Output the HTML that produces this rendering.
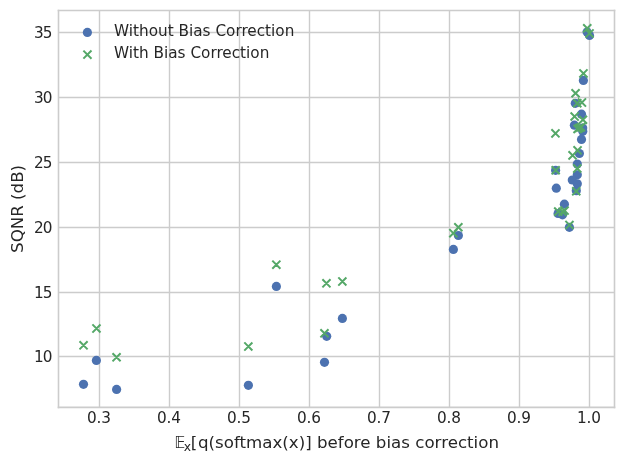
<!DOCTYPE html>
<html><head><meta charset="utf-8"><title>SQNR vs softmax</title>
<style>html,body{margin:0;padding:0;background:#fff}svg{display:block}text{font-family:"DejaVu Sans","Liberation Sans",sans-serif;fill:#262626}</style></head><body>
<svg width="623" height="464" viewBox="0 0 623 464">
<rect width="623" height="464" fill="#fff"/>
<g stroke="#cccccc" stroke-width="1.39" fill="none">
<line x1="99.50" y1="10.50" x2="99.50" y2="407.40"/>
<line x1="169.50" y1="10.50" x2="169.50" y2="407.40"/>
<line x1="239.50" y1="10.50" x2="239.50" y2="407.40"/>
<line x1="309.50" y1="10.50" x2="309.50" y2="407.40"/>
<line x1="379.50" y1="10.50" x2="379.50" y2="407.40"/>
<line x1="449.50" y1="10.50" x2="449.50" y2="407.40"/>
<line x1="519.50" y1="10.50" x2="519.50" y2="407.40"/>
<line x1="589.50" y1="10.50" x2="589.50" y2="407.40"/>
<line x1="58.50" y1="32.50" x2="614.50" y2="32.50"/>
<line x1="58.50" y1="97.50" x2="614.50" y2="97.50"/>
<line x1="58.50" y1="162.50" x2="614.50" y2="162.50"/>
<line x1="58.50" y1="227.50" x2="614.50" y2="227.50"/>
<line x1="58.50" y1="292.50" x2="614.50" y2="292.50"/>
<line x1="58.50" y1="356.50" x2="614.50" y2="356.50"/>
</g>
<g fill="#4c72b0">
<circle cx="83.5" cy="384.3" r="4.6"/>
<circle cx="96.4" cy="360.4" r="4.6"/>
<circle cx="116.6" cy="389.4" r="4.6"/>
<circle cx="276.4" cy="286.4" r="4.6"/>
<circle cx="248.4" cy="385.3" r="4.6"/>
<circle cx="342.4" cy="318.4" r="4.6"/>
<circle cx="326.7" cy="336.3" r="4.6"/>
<circle cx="324.5" cy="362.3" r="4.6"/>
<circle cx="458.4" cy="235.5" r="4.6"/>
<circle cx="453.4" cy="249.4" r="4.6"/>
<circle cx="587.1" cy="32.0" r="4.6"/>
<circle cx="589.5" cy="35.5" r="4.6"/>
<circle cx="583.4" cy="80.4" r="4.6"/>
<circle cx="575.3" cy="103.3" r="4.6"/>
<circle cx="581.5" cy="114.2" r="4.6"/>
<circle cx="574.4" cy="125.2" r="4.6"/>
<circle cx="582.7" cy="128.1" r="4.6"/>
<circle cx="582.8" cy="131.3" r="4.6"/>
<circle cx="581.5" cy="139.4" r="4.6"/>
<circle cx="579.4" cy="153.5" r="4.6"/>
<circle cx="577.3" cy="164.0" r="4.6"/>
<circle cx="555.6" cy="170.3" r="4.6"/>
<circle cx="577.3" cy="174.8" r="4.6"/>
<circle cx="572.3" cy="180.0" r="4.6"/>
<circle cx="577.3" cy="183.8" r="4.6"/>
<circle cx="556.3" cy="188.2" r="4.6"/>
<circle cx="576.3" cy="190.7" r="4.6"/>
<circle cx="564.4" cy="204.2" r="4.6"/>
<circle cx="558.1" cy="213.5" r="4.6"/>
<circle cx="562.5" cy="214.8" r="4.6"/>
<circle cx="569.4" cy="227.3" r="4.6"/>
</g>
<g stroke="#55a868" stroke-width="2.0" fill="none">
<path d="M79.5 341.3l8.1 8.1M79.5 349.4l8.1 -8.1M92.4 324.4l8.1 8.1M92.4 332.6l8.1 -8.1M112.5 353.2l8.1 8.1M112.5 361.4l8.1 -8.1M272.3 260.6l8.1 8.1M272.3 268.7l8.1 -8.1M244.3 342.4l8.1 8.1M244.3 350.6l8.1 -8.1M320.4 329.2l8.1 8.1M320.4 337.4l8.1 -8.1M322.4 279.3l8.1 8.1M322.4 287.4l8.1 -8.1M338.3 277.4l8.1 8.1M338.3 285.6l8.1 -8.1M449.3 229.1l8.1 8.1M449.3 237.2l8.1 -8.1M454.3 223.2l8.1 8.1M454.3 231.4l8.1 -8.1M583.2 24.3l8.1 8.1M583.2 32.4l8.1 -8.1M585.5 29.4l8.1 8.1M585.5 37.5l8.1 -8.1M579.4 69.4l8.1 8.1M579.4 77.5l8.1 -8.1M571.5 89.2l8.1 8.1M571.5 97.3l8.1 -8.1M573.2 99.2l8.1 8.1M573.2 107.2l8.1 -8.1M577.9 98.5l8.1 8.1M577.9 106.5l8.1 -8.1M570.6 112.5l8.1 8.1M570.6 120.5l8.1 -8.1M578.9 115.7l8.1 8.1M578.9 123.8l8.1 -8.1M573.5 124.9l8.1 8.1M573.5 133.0l8.1 -8.1M575.1 124.0l8.1 8.1M575.1 132.1l8.1 -8.1M576.9 123.2l8.1 8.1M576.9 131.3l8.1 -8.1M551.4 129.3l8.1 8.1M551.4 137.5l8.1 -8.1M573.5 146.3l8.1 8.1M573.5 154.5l8.1 -8.1M568.5 151.3l8.1 8.1M568.5 159.5l8.1 -8.1M573.2 164.4l8.1 8.1M573.2 172.6l8.1 -8.1M551.6 166.2l8.1 8.1M551.6 174.4l8.1 -8.1M572.2 187.2l8.1 8.1M572.2 195.4l8.1 -8.1M554.2 207.5l8.1 8.1M554.2 215.7l8.1 -8.1M558.5 207.8l8.1 8.1M558.5 216.0l8.1 -8.1M560.5 206.5l8.1 8.1M560.5 214.7l8.1 -8.1M565.4 220.9l8.1 8.1M565.4 229.1l8.1 -8.1"/>
</g>
<g stroke="#cccccc" stroke-width="1.6" stroke-linecap="square" fill="none">
<line x1="58.50" y1="10.50" x2="58.50" y2="407.40"/>
<line x1="614.50" y1="10.50" x2="614.50" y2="407.40"/>
<line x1="58.50" y1="10.50" x2="614.50" y2="10.50"/>
<line x1="58.50" y1="407.40" x2="614.50" y2="407.40"/>
</g>
<g font-size="15.28">
<text x="98.95" y="422.60" text-anchor="middle" letter-spacing="-0.1">0.3</text>
<text x="168.95" y="422.60" text-anchor="middle" letter-spacing="-0.1">0.4</text>
<text x="238.95" y="422.60" text-anchor="middle" letter-spacing="-0.1">0.5</text>
<text x="308.95" y="422.60" text-anchor="middle" letter-spacing="-0.1">0.6</text>
<text x="378.95" y="422.60" text-anchor="middle" letter-spacing="-0.1">0.7</text>
<text x="448.95" y="422.60" text-anchor="middle" letter-spacing="-0.1">0.8</text>
<text x="518.95" y="422.60" text-anchor="middle" letter-spacing="-0.1">0.9</text>
<text x="588.95" y="422.60" text-anchor="middle" letter-spacing="-0.1">1.0</text>
<text x="51.50" y="38.10" text-anchor="end" letter-spacing="-0.9">35</text>
<text x="51.50" y="103.10" text-anchor="end" letter-spacing="-0.9">30</text>
<text x="51.50" y="168.10" text-anchor="end" letter-spacing="-0.9">25</text>
<text x="51.50" y="233.10" text-anchor="end" letter-spacing="-0.9">20</text>
<text x="51.50" y="298.10" text-anchor="end" letter-spacing="-0.9">15</text>
<text x="51.50" y="362.10" text-anchor="end" letter-spacing="-0.9">10</text>
</g>
<text x="23.00" y="208.90" font-size="16.67" text-anchor="middle" transform="rotate(-90 23.00 208.90)">SQNR (dB)</text>
<g font-size="16.67"><text transform="translate(174.4 448) scale(0.88 1)">&#x1D53C;</text><text x="183.7" y="450.7" font-size="12.4">x</text><text x="190.7" y="448">[</text><text x="198.0" y="448">q(softmax(x)] before bias correction</text></g>
<circle cx="87.4" cy="32.4" r="4.6" fill="#4c72b0"/>
<path d="M83.4 50.6l8.1 8.1M83.4 58.6l8.1 -8.1" stroke="#55a868" stroke-width="2.0" fill="none"/>
<g font-size="15.28">
<text x="114.00" y="36.10">Without Bias Correction</text>
<text x="114.00" y="57.60">With Bias Correction</text>
</g>
</svg></body></html>
